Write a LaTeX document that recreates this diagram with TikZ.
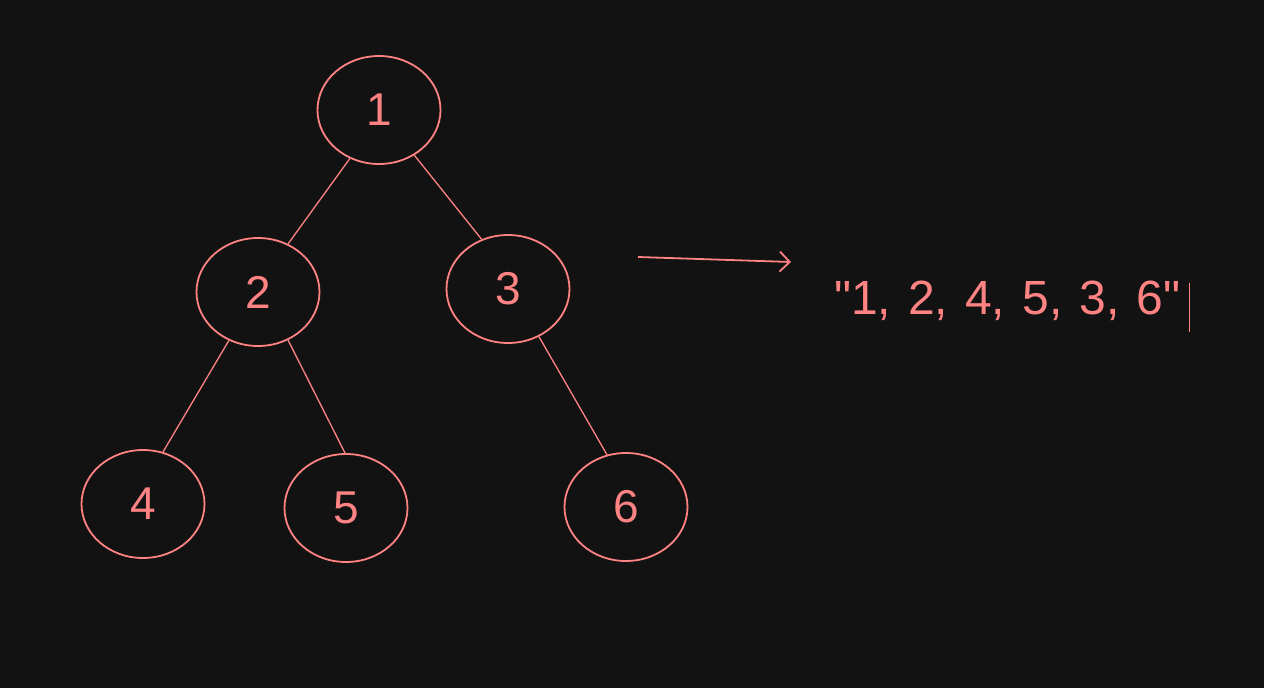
\documentclass[tikz,border=0pt]{standalone}
\usepackage{fontspec}
\setmainfont{Liberation Sans}
\usetikzlibrary{shapes.geometric,arrows.meta}
\definecolor{bg}{HTML}{121212}
\definecolor{salmon}{HTML}{FF8383}
\begin{document}
\begin{tikzpicture}[x=1pt,y=-1pt,
  treenode/.style={ellipse,draw=salmon,line width=1.8pt,inner sep=0pt,
    minimum width=123pt,minimum height=108pt,text=salmon,font=\fontsize{46}{46}\selectfont},
  edge/.style={draw=salmon,line width=1.3pt},
  outtext/.style={text=salmon,font=\fontsize{48}{48}\selectfont,inner sep=0pt,anchor=west}]
\fill[bg] (0,0) rectangle (1264,688);
\useasboundingbox (0,0) rectangle (1264,688);
\node[treenode] (n1) at (379,110) {1};
\node[treenode] (n2) at (258,292) {2};
\node[treenode] (n3) at (508,289) {3};
\node[treenode] (n4) at (143,504) {4};
\node[treenode] (n5) at (346,508) {5};
\node[treenode] (n6) at (626,507) {6};
\draw[edge] (n1.-121) -- (n2.58);
\draw[edge] (n1.-52) -- (n3.118);
\draw[edge] (n2.-121) -- (n4.69);
\draw[edge] (n2.-58) -- (n5.91);
\draw[edge] (n3.-57) -- (n6.110);
\coordinate (a1) at (638,257);
\coordinate (a2) at (791,262);
\draw[edge,line width=1.8pt,-{Straight Barb[length=10pt,width=20pt]}] (a1) -- (a2);
\node[outtext] (res) at (834,301) {\spaceskip=17pt\textquotedbl 1, 2, 4, 5, 3, 6\textquotedbl};
\coordinate (c1) at (1189,283);
\coordinate (c2) at (1189,332);
\draw[salmon,line width=1pt] (c1) -- (c2);
\end{tikzpicture}
\end{document}
